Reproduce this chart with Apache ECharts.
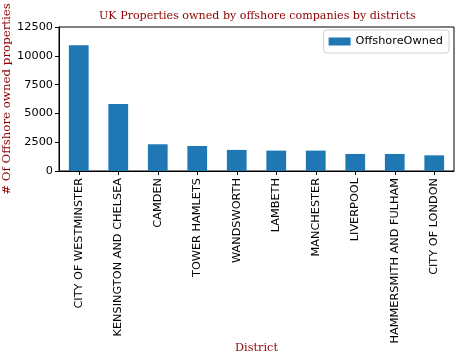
<!DOCTYPE html>
<html><head><meta charset="utf-8">
<script src="https://cdn.jsdelivr.net/npm/echarts@6/dist/echarts.min.js"></script>
<style>html,body{margin:0;padding:0;background:#fff}#c{width:474px;height:361px}</style>
</head><body><div id="c"></div>
<script>
const categories = ['CITY OF WESTMINSTER','KENSINGTON AND CHELSEA','CAMDEN','TOWER HAMLETS','WANDSWORTH','LAMBETH','MANCHESTER','LIVERPOOL','HAMMERSMITH AND FULHAM','CITY OF LONDON'];
const offshoreOwned = [10920, 5820, 2320, 2170, 1830, 1770, 1770, 1480, 1480, 1360];
const yTicks = [0, 2500, 5000, 7500, 10000, 12500];

const chart = echarts.init(document.getElementById('c'), null, {renderer:'canvas'});
chart.setOption({
  animation:false,
  backgroundColor:'#fff',
  title:{
    text:'UK Properties owned by offshore companies by districts',
    left:94, top:6,
    textStyle:{fontFamily:'DejaVu Serif', fontSize:11.1, fontWeight:'normal', color:'#8b0000'}
  },
  legend:{
    right:25, top:30, orient:'vertical',
    itemWidth:22, itemHeight:8, itemGap:4,
    padding:[6,6,6,5],
    borderColor:'#d0d0d0', borderWidth:1, borderRadius:3,
    backgroundColor:'rgba(255,255,255,0.8)',
    textStyle:{fontFamily:'DejaVu Sans', fontSize:11.3, color:'#000'},
    data:[{name:'OffshoreOwned', icon:'rect'}]
  },
  grid:{left:59, right:20, top:27, bottom:190, outerBoundsMode:'none', containLabel:false,
    show:true, borderColor:'#000', borderWidth:1, backgroundColor:'transparent'},
  xAxis:{
    type:'category', data:categories,
    name:'District', nameLocation:'middle', nameGap:172, nameMoveOverlap:false,
    nameTextStyle:{fontFamily:'DejaVu Serif', fontSize:11.3, color:'#8b0000'},
    axisLine:{show:true, lineStyle:{color:'#000', width:1}},
    axisTick:{show:true, alignWithLabel:true, length:4, lineStyle:{color:'#000'}},
    axisLabel:{rotate:90, interval:0, margin:7, fontFamily:'DejaVu Sans', fontSize:11.3, color:'#000'},
    splitLine:{show:false}
  },
  yAxis:{
    type:'value', min:0, max:12500, interval:2500,
    name:'# Of Offshore owned properties', nameLocation:'middle', nameGap:46, nameRotate:90, nameMoveOverlap:false,
    nameTextStyle:{fontFamily:'DejaVu Serif', fontSize:11.8, color:'#8b0000'},
    axisLine:{show:true, lineStyle:{color:'#000', width:1}},
    axisTick:{show:true, length:4, lineStyle:{color:'#000'}},
    axisLabel:{margin:6, fontFamily:'DejaVu Sans', fontSize:11.3, color:'#000',
      formatter:v=>yTicks.includes(v)?String(v):''},
    splitLine:{show:false}
  },
  series:[{
    name:'OffshoreOwned', type:'bar', data:offshoreOwned,
    barWidth:'50%', itemStyle:{color:'#1f77b4'}
  }]
});
</script></body></html>
